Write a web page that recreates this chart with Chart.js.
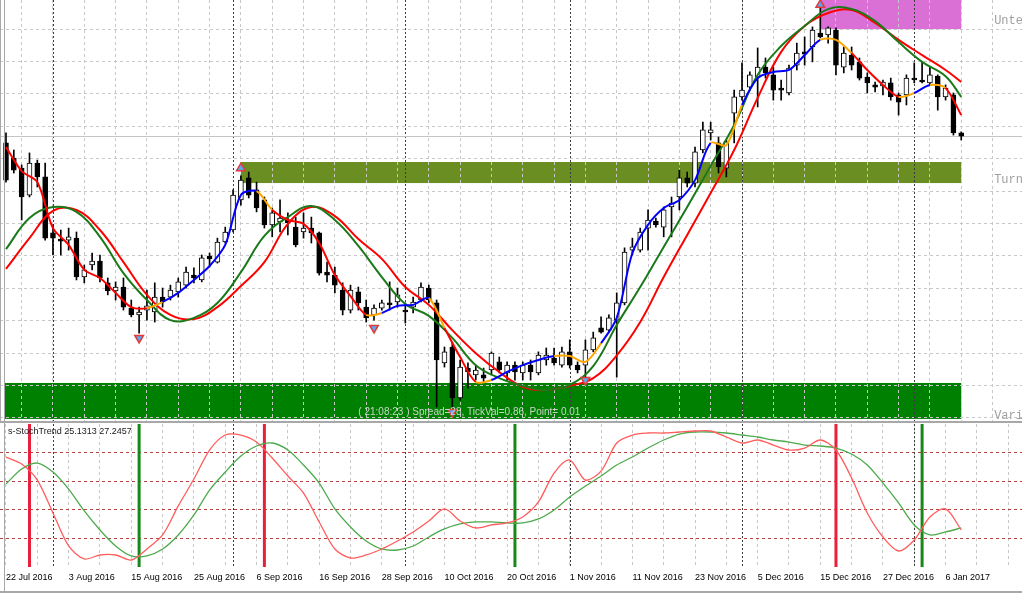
<!DOCTYPE html>
<html>
<head>
<meta charset="utf-8">
<script src="https://cdn.jsdelivr.net/npm/chart.js@4.4.0/dist/chart.umd.min.js"></script>
<style>
  html, body { margin: 0; padding: 0; background: #fff; }
  #wrap { position: relative; width: 1022px; height: 594px; overflow: hidden; background: #fff; }
  #main { position: absolute; left: 0; top: 0; }
  #sub { position: absolute; left: 0; top: 423px; }
  .frame { position: absolute; background: #a8a8a8; }
</style>
</head>
<body>
<div id="wrap">
  <canvas id="main" width="1022" height="421"></canvas>
  <canvas id="sub" width="1022" height="168"></canvas>
  <div class="frame" style="left:0;top:0;width:1px;height:421px"></div>
  <div class="frame" style="left:4px;top:0;width:1px;height:591px"></div>
  <div class="frame" style="left:0;top:421px;width:1022px;height:2px"></div>
  <div class="frame" style="left:0;top:591px;width:1022px;height:2px"></div>
</div>
<script>
// x axis: one step per daily bar, label every 8 bars
const dateLabels = ['22 Jul 2016', '3 Aug 2016', '15 Aug 2016', '25 Aug 2016', '6 Sep 2016', '16 Sep 2016',
  '28 Sep 2016', '10 Oct 2016', '20 Oct 2016', '1 Nov 2016', '11 Nov 2016', '23 Nov 2016', '5 Dec 2016',
  '15 Dec 2016', '27 Dec 2016', '6 Jan 2017'];
const monthStartIdx = [6, 29, 51, 72, 94, 116];

// daily candles
const open = [108.49, 108.02, 107.71, 106.88, 107.87, 107.44, 105.71, 105.52, 105.49, 105.55,
  104.35, 104.72, 104.84, 104.17, 103.92, 104.04, 103.39, 103.18, 103.33, 103.27,
  103.73, 103.73, 103.89, 104.10, 104.41, 104.26, 105.00, 104.81, 105.43, 105.80,
  106.73, 107.41, 107.04, 106.73, 105.96, 106.05, 106.11, 105.89, 105.74, 105.86,
  105.71, 104.50, 104.41, 103.95, 103.33, 103.89, 103.42, 103.18, 103.39, 103.55,
  103.58, 103.33, 103.42, 103.64, 104.01, 103.55, 101.70, 102.19, 100.62, 101.54,
  101.33, 101.33, 101.48, 101.73, 101.39, 101.63, 101.39, 101.63, 101.39, 101.79,
  101.85, 101.63, 102.04, 101.63, 101.63, 102.10, 102.78, 102.71, 103.02, 103.55,
  105.18, 105.18, 105.86, 106.08, 105.89, 106.51, 106.82, 107.41, 107.25, 108.27,
  108.80, 108.49, 107.71, 109.41, 109.91, 110.21, 110.52, 110.83, 110.59, 110.18,
  110.03, 110.89, 111.30, 111.45, 111.88, 111.82, 111.97, 110.83, 111.20, 110.99,
  110.52, 110.28, 110.25, 110.34, 109.97, 109.97, 110.49, 110.43, 110.34, 110.55,
  109.91, 109.97, 108.80];
const high = [108.80, 108.27, 107.81, 108.18, 107.96, 107.87, 105.96, 105.80, 105.86, 105.74,
  104.72, 105.09, 105.03, 104.32, 104.20, 104.32, 103.64, 103.42, 103.95, 104.17,
  104.01, 104.10, 104.32, 104.66, 104.63, 105.03, 105.09, 105.55, 105.89, 107.04,
  107.47, 107.59, 107.28, 106.82, 106.48, 106.73, 106.33, 106.20, 106.33, 106.20,
  105.74, 104.81, 104.66, 104.17, 104.10, 104.04, 103.64, 103.49, 103.64, 104.20,
  104.01, 103.55, 103.73, 104.17, 104.10, 103.64, 102.19, 102.34, 101.79, 101.70,
  101.63, 101.54, 102.04, 101.88, 101.73, 101.73, 101.73, 101.79, 102.04, 102.16,
  102.16, 102.19, 102.41, 101.73, 102.41, 102.65, 103.12, 103.18, 103.86, 105.25,
  105.55, 105.86, 106.42, 106.17, 106.51, 106.82, 107.65, 107.59, 108.36, 109.13,
  109.13, 108.67, 108.58, 110.12, 110.96, 110.68, 111.42, 111.11, 110.83, 110.43,
  110.89, 111.57, 111.76, 112.07, 112.65, 112.07, 112.04, 111.45, 111.45, 111.11,
  110.65, 110.37, 110.43, 110.49, 110.03, 110.59, 110.96, 110.99, 110.83, 110.59,
  110.28, 110.03, 108.83];
const low = [107.28, 107.56, 106.11, 106.82, 107.13, 105.49, 105.03, 105.03, 105.18, 104.26,
  104.17, 104.57, 104.20, 103.80, 103.64, 103.33, 103.12, 102.62, 103.02, 102.96,
  103.42, 103.64, 103.73, 104.01, 104.17, 104.20, 104.66, 104.78, 105.40, 105.74,
  106.57, 106.79, 106.36, 105.86, 105.59, 105.74, 105.65, 105.28, 105.55, 105.40,
  104.41, 104.20, 103.86, 103.18, 103.24, 103.33, 102.96, 103.02, 103.33, 103.33,
  103.42, 102.93, 103.24, 103.58, 103.55, 100.34, 101.57, 100.31, 100.55, 100.92,
  101.17, 101.11, 101.33, 101.39, 101.17, 101.17, 101.17, 101.17, 101.33, 101.63,
  101.63, 101.57, 101.54, 101.39, 101.23, 102.04, 102.62, 102.65, 101.26, 103.49,
  105.03, 105.12, 105.18, 105.89, 105.59, 105.59, 106.42, 107.13, 107.13, 108.18,
  108.58, 107.56, 107.44, 108.49, 109.81, 110.12, 109.60, 110.49, 109.81, 109.81,
  109.97, 110.74, 110.89, 110.99, 111.73, 111.57, 110.59, 110.65, 110.74, 110.43,
  110.03, 110.06, 109.97, 109.81, 109.35, 109.66, 110.34, 110.34, 110.28, 109.50,
  109.81, 108.73, 108.58];
const close = [107.34, 107.65, 106.82, 107.87, 107.44, 105.55, 105.55, 105.46, 105.59, 104.35,
  104.57, 104.84, 104.32, 103.92, 104.04, 103.42, 103.18, 103.27, 103.46, 103.73,
  103.58, 103.95, 104.20, 104.50, 104.32, 104.94, 104.91, 105.43, 105.74, 106.88,
  107.34, 106.88, 106.48, 105.96, 106.33, 106.17, 106.02, 105.34, 105.86, 105.71,
  104.47, 104.41, 104.10, 103.33, 103.95, 103.55, 103.09, 103.39, 103.55, 103.49,
  103.80, 103.27, 103.58, 104.04, 103.64, 101.79, 102.04, 100.62, 101.57, 101.42,
  101.48, 101.23, 102.00, 101.48, 101.63, 101.42, 101.63, 101.42, 101.94, 101.94,
  101.70, 102.04, 101.63, 101.48, 102.10, 102.47, 102.65, 103.09, 103.55, 105.12,
  105.28, 105.74, 106.11, 105.96, 106.42, 106.63, 107.41, 107.25, 108.21, 108.89,
  108.89, 107.75, 108.52, 109.91, 110.12, 110.59, 110.83, 110.65, 110.12, 110.12,
  110.80, 111.26, 111.23, 111.97, 111.76, 112.04, 110.89, 111.26, 110.89, 110.49,
  110.34, 110.21, 110.37, 109.91, 109.75, 110.49, 110.43, 110.37, 110.59, 109.91,
  110.18, 108.80, 108.70];

// moving averages, read every 3 bars
const maIdx = [0, 3, 6, 9, 12, 15, 18, 21, 24, 27, 30, 33, 36, 39, 42, 45, 48, 51, 54, 57, 60,
  63, 66, 69, 72, 75, 78, 81, 84, 87, 90, 93, 96, 99, 102, 105, 108, 111, 114, 117, 120, 122];
const maSlow = [104.60, 105.55, 106.39, 106.42, 105.80, 104.81, 103.80, 103.18, 103.05, 103.42,
  104.07, 104.81, 105.99, 106.51, 106.23, 105.52, 104.91, 104.04, 103.49, 102.71, 102.00,
  101.42, 100.96, 100.86, 100.99, 101.23, 101.93, 102.96, 104.35, 105.65, 106.94, 108.27,
  109.88, 111.30, 112.10, 112.50, 112.59, 112.19, 111.67, 111.20, 110.74, 110.37];
const maMid = [105.21, 106.17, 106.51, 106.36, 105.59, 104.47, 103.64, 103.02, 103.09, 103.55,
  104.50, 105.62, 106.20, 106.54, 106.11, 105.31, 104.35, 103.52, 103.15, 102.47, 101.63,
  101.23, 100.99, 100.86, 101.02, 101.60, 102.87, 104.04, 105.28, 106.51, 107.78, 109.04,
  110.59, 111.48, 112.10, 112.62, 112.62, 112.25, 111.60, 110.99, 110.55, 109.91];

// fast trend line and stochastic, read every 2 bars
const stepIdx = [0, 2, 4, 6, 8, 10, 12, 14, 16, 18, 20, 22, 24, 26, 28, 30, 32, 34, 36, 38, 40,
  42, 44, 46, 48, 50, 52, 54, 56, 58, 60, 62, 64, 66, 68, 70, 72, 74, 76, 78, 80, 82, 84, 86,
  88, 90, 92, 94, 96, 98, 100, 102, 104, 106, 108, 110, 112, 114, 116, 118, 120, 122];
const fastPrice = [108.36, 107.62, 107.28, 105.86, 105.34, 104.57, 104.32, 103.86, 103.42, 103.39,
  103.58, 103.86, 104.26, 104.69, 105.34, 106.88, 107.00, 106.42, 106.11, 105.99, 105.40,
  104.41, 103.76, 103.18, 103.24, 103.46, 103.49, 103.70, 102.78, 101.88, 101.11, 101.17,
  101.42, 101.63, 101.79, 101.91, 101.91, 101.73, 102.31, 103.09, 105.09, 105.96, 106.48,
  106.73, 107.34, 108.49, 108.42, 109.66, 110.49, 110.68, 110.74, 111.20, 111.67, 111.67,
  111.26, 110.74, 110.28, 109.91, 110.03, 110.28, 110.18, 109.35];
const stochMain = [76.9, 72.0, 60.8, 37.8, 14.7, 5.6, 8.4, 8.4, 4.9, 12.6, 22.4, 42.7, 61.5, 81.8,
  92.3, 92.3, 87.4, 76.2, 63.6, 51.7, 31.5, 12.6, 6.3, 8.4, 12.6, 18.2, 24.5, 32.2, 40.6, 32.2,
  27.3, 29.4, 30.8, 35.0, 45.5, 65.7, 74.8, 60.8, 67.1, 86.7, 92.3, 93.7, 93.7, 94.4, 95.1,
  95.1, 90.9, 86.7, 88.8, 85.3, 81.8, 83.2, 88.8, 81.8, 62.2, 37.8, 21.0, 11.2, 18.9, 35.0,
  40.6, 25.9];
const stochSignal = [58.0, 68.5, 72.7, 66.4, 54.5, 39.2, 25.9, 14.7, 7.7, 7.7, 12.6, 22.4, 36.4,
  53.8, 66.4, 77.6, 84.6, 86.7, 81.8, 71.3, 58.7, 40.6, 28.0, 18.2, 12.6, 11.9, 14.7, 21.0,
  26.6, 30.1, 31.5, 31.5, 30.8, 30.8, 33.6, 39.9, 49.0, 56.6, 63.6, 71.3, 76.9, 83.2, 88.8,
  93.0, 94.4, 94.4, 93.7, 92.3, 90.9, 88.8, 87.4, 85.3, 84.6, 83.2, 79.0, 71.3, 58.7, 44.8,
  29.4, 22.4, 24.5, 27.3];
const stochLevels = [20, 40, 60, 80];
const crossDownIdx = [3, 33, 106];
const crossUpIdx = [17, 65, 117];

// signal arrows
const arrowDownIdx = [17, 47, 57, 74];
const arrowDownPrice = [102.47, 102.78, 100.18, 101.17];
const arrowUpIdx = [30, 104];
const arrowUpPrice = [107.71, 112.75];

// zones: variance, turning, upper
const zoneFrom = [-0.2, 30, 104];
const zoneTo = [122, 122, 122];
const zoneLow = [99.97, 107.25, 112.0];
const zoneHigh = [101.08, 107.90, 112.9];
const zoneText = ['Vari', 'Turn', 'Unte'];
const zoneTextPrice = [100.06, 107.34, 112.25];

const X_MIN = -0.766, X_MAX = 129.76;
Chart.defaults.font.family = 'Liberation Sans';

function drawSeparators(chart) {
  const { ctx, chartArea: a, scales: { x } } = chart;
  ctx.save();
  ctx.strokeStyle = '#3c3c3c';
  ctx.lineWidth = 1;
  ctx.setLineDash([2, 2]);
  monthStartIdx.forEach(i => {
    const px = Math.round(x.getPixelForValue(i)) + 0.5;
    ctx.beginPath();
    ctx.moveTo(px, a.top);
    ctx.lineTo(px, a.bottom);
    ctx.stroke();
  });
  ctx.restore();
}

function gridTicks(scale) {
  const t = [];
  for (let v = 0; v <= 128; v += 4) t.push({ value: v });
  scale.ticks = t;
}

const mainDecor = {
  id: 'mainDecor',
  beforeDraw(chart) {
    const { ctx, scales: { x, y } } = chart;
    const fills = ['#008000', '#6b8e23', '#da70d6'];
    ctx.save();
    zoneFrom.forEach((f, k) => {
      const x0 = x.getPixelForValue(f), x1 = x.getPixelForValue(zoneTo[k]);
      const y0 = y.getPixelForValue(zoneHigh[k]), y1 = y.getPixelForValue(zoneLow[k]);
      ctx.fillStyle = fills[k];
      ctx.fillRect(x0, y0, x1 - x0, y1 - y0);
    });
    ctx.restore();
  },
  beforeDatasetsDraw(chart) {
    drawSeparators(chart);
    const { ctx, chartArea: a, scales: { y } } = chart;
    // bid line at the last close
    const py = Math.round(y.getPixelForValue(close[close.length - 1])) + 0.5;
    ctx.save();
    ctx.strokeStyle = '#c4c4c4';
    ctx.lineWidth = 1;
    ctx.beginPath();
    ctx.moveTo(a.left, py);
    ctx.lineTo(a.right, py);
    ctx.stroke();
    ctx.restore();
  },
  afterDatasetsDraw(chart) {
    const { ctx, scales: { x, y } } = chart;
    ctx.save();
    ctx.textBaseline = 'middle';
    ctx.font = '12px "Liberation Mono"';
    ctx.fillStyle = '#a0a0a0';
    zoneText.forEach((t, k) => ctx.fillText(t, x.getPixelForValue(126.2), y.getPixelForValue(zoneTextPrice[k])));
    ctx.font = '10px "Liberation Sans"';
    ctx.fillStyle = '#c6d6c6';
    ctx.fillText('( 21:08:23 ) Spread=28, TickVal=0.86, Point= 0.01', x.getPixelForValue(45), y.getPixelForValue(100.18));
    ctx.restore();
  }
};

function fastColor(c) {
  const k = c.p0DataIndex;
  const d = Math.sign(fastPrice[k + 1] - fastPrice[k]);
  const prev = k > 0 ? Math.sign(fastPrice[k] - fastPrice[k - 1]) : d;
  if (d === 0 || d !== prev) return '#ffa500';
  return d > 0 ? '#0000ff' : '#ff0000';
}

const barIdx = open.map((_, i) => i);

new Chart(document.getElementById('main'), {
  type: 'line',
  data: {
    datasets: [
      {
        type: 'scatter', order: 0,
        data: arrowDownIdx.map((v, k) => ({ x: v, y: arrowDownPrice[k] })),
        pointStyle: 'triangle', rotation: 180, pointRadius: 5,
        backgroundColor: '#5aaaf0', borderColor: '#e23a3a', borderWidth: 1.5
      },
      {
        type: 'scatter', order: 0,
        data: arrowUpIdx.map((v, k) => ({ x: v, y: arrowUpPrice[k] })),
        pointStyle: 'triangle', rotation: 0, pointRadius: 5,
        backgroundColor: '#5aaaf0', borderColor: '#e23a3a', borderWidth: 1.5
      },
      {
        order: 1,
        data: stepIdx.map((v, k) => ({ x: v, y: fastPrice[k] })),
        borderColor: '#0000ff', borderWidth: 2, pointRadius: 0, tension: 0.3,
        segment: { borderColor: fastColor }
      },
      {
        order: 2,
        data: maIdx.map((v, k) => ({ x: v, y: maMid[k] })),
        borderColor: '#1a7a1a', borderWidth: 2, pointRadius: 0, tension: 0.4
      },
      {
        order: 3,
        data: maIdx.map((v, k) => ({ x: v, y: maSlow[k] })),
        borderColor: '#ff0000', borderWidth: 2, pointRadius: 0, tension: 0.4
      },
      {
        type: 'bar', order: 5, grouped: false,
        data: barIdx.map(i => ({ x: i, y: [open[i], close[i]] })),
        barThickness: 5, minBarLength: 1,
        backgroundColor: c => (close[c.dataIndex] >= open[c.dataIndex] ? '#ffffff' : '#000000'),
        borderColor: '#000000', borderWidth: 1, borderSkipped: false
      },
      {
        type: 'bar', order: 6, grouped: false,
        data: barIdx.map(i => ({ x: i, y: [low[i], high[i]] })),
        barThickness: 1, backgroundColor: '#000000'
      }
    ]
  },
  options: {
    responsive: false,
    animation: false,
    events: [],
    layout: { padding: 0, autoPadding: false },
    plugins: { legend: { display: false }, tooltip: { enabled: false } },
    scales: {
      x: {
        type: 'linear', min: X_MIN, max: X_MAX, offset: false,
        grid: { color: '#c8c8c8', drawTicks: false },
        border: { display: false, dash: [3, 3] },
        ticks: { display: false },
        afterBuildTicks: gridTicks,
        afterFit: s => { s.height = 0; }
      },
      y: {
        type: 'linear', position: 'right', min: 99.906, max: 112.9,
        grid: { color: '#c8c8c8', drawTicks: false },
        border: { display: false, dash: [3, 3] },
        ticks: { display: false, stepSize: 1, includeBounds: false },
        afterFit: s => { s.width = 0; }
      }
    }
  },
  plugins: [mainDecor]
});

const subDecor = {
  id: 'subDecor',
  beforeDatasetsDraw(chart) {
    drawSeparators(chart);
    const { ctx, chartArea: a, scales: { x } } = chart;
    ctx.save();
    ctx.lineWidth = 3;
    [[crossDownIdx, '#e8203c'], [crossUpIdx, '#188818']].forEach(([list, col]) => {
      ctx.strokeStyle = col;
      list.forEach(i => {
        const px = x.getPixelForValue(i);
        ctx.beginPath();
        ctx.moveTo(px, a.top);
        ctx.lineTo(px, a.bottom);
        ctx.stroke();
      });
    });
    ctx.restore();
  },
  afterDraw(chart) {
    const { ctx, chartArea: a } = chart;
    ctx.save();
    ctx.font = '9px "Liberation Sans"';
    ctx.fillStyle = '#202020';
    ctx.textBaseline = 'middle';
    ctx.fillText('s-StochTrend 25.1313 27.2457', a.left + 8, a.top + 8);
    ctx.restore();
  }
};

new Chart(document.getElementById('sub'), {
  type: 'line',
  data: {
    datasets: [
      {
        data: stepIdx.map((v, k) => ({ x: v, y: stochMain[k] })),
        borderColor: '#ff5c5c', borderWidth: 1.3, pointRadius: 0, tension: 0.3
      },
      {
        data: stepIdx.map((v, k) => ({ x: v, y: stochSignal[k] })),
        borderColor: '#4caa4c', borderWidth: 1.3, pointRadius: 0, tension: 0.3
      }
    ]
  },
  options: {
    responsive: false,
    animation: false,
    events: [],
    layout: { padding: { top: 1, left: 0, right: 0, bottom: 0 }, autoPadding: false },
    plugins: { legend: { display: false }, tooltip: { enabled: false } },
    scales: {
      x: {
        type: 'linear', min: X_MIN, max: X_MAX, offset: false,
        grid: { color: '#c8c8c8', drawTicks: false },
        border: { display: false, dash: [3, 3] },
        afterBuildTicks: gridTicks,
        ticks: {
          autoSkip: false, maxRotation: 0, align: 'start', padding: 5,
          color: '#000000', font: { size: 9 },
          callback: v => (v % 8 === 0 && dateLabels[v / 8]) ? dateLabels[v / 8] : ''
        },
        afterFit: s => { s.height = 24; }
      },
      y: {
        type: 'linear', position: 'right', min: 0, max: 100,
        grid: { color: '#b84040', drawTicks: false },
        border: { display: false, dash: [3, 3] },
        ticks: { display: false },
        afterBuildTicks: s => { s.ticks = stochLevels.map(v => ({ value: v })); },
        afterFit: s => { s.width = 0; }
      }
    }
  },
  plugins: [subDecor]
});
</script>
</body>
</html>
